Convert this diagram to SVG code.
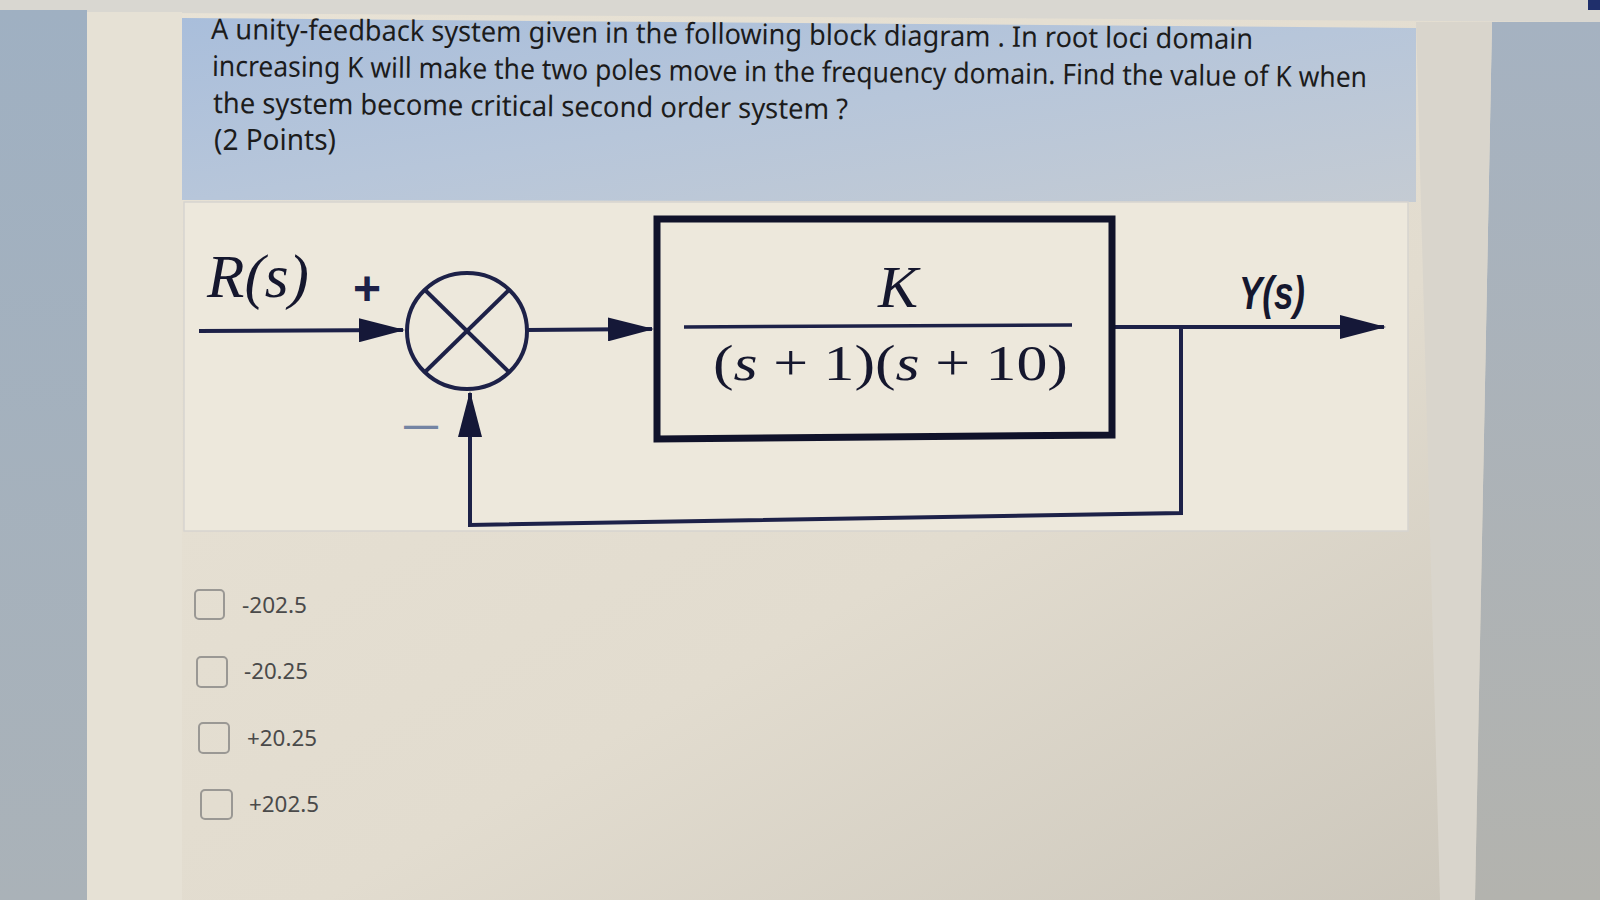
<svg xmlns="http://www.w3.org/2000/svg" width="1600" height="900" viewBox="0 0 1600 900">
  <defs>
    <linearGradient id="bg" x1="0" y1="0" x2="1" y2="1">
      <stop offset="0" stop-color="#e9e3d6"/>
      <stop offset="0.6" stop-color="#e2dccf"/>
      <stop offset="1" stop-color="#c9c4b9"/>
    </linearGradient>
    <linearGradient id="hdr" x1="0" y1="0" x2="1" y2="1">
      <stop offset="0" stop-color="#a9bedb"/>
      <stop offset="0.5" stop-color="#b7c6da"/>
      <stop offset="1" stop-color="#c4cbd3"/>
    </linearGradient>
    <linearGradient id="leftStrip" x1="0" y1="0" x2="0" y2="1">
      <stop offset="0" stop-color="#9fb0c2"/>
      <stop offset="1" stop-color="#aab2b8"/>
    </linearGradient>
    <linearGradient id="rightStrip" x1="0" y1="0" x2="0" y2="1">
      <stop offset="0" stop-color="#a5b2c1"/>
      <stop offset="1" stop-color="#b3b3ae"/>
    </linearGradient>
    <marker id="arrow" markerUnits="userSpaceOnUse" markerWidth="46" markerHeight="24" refX="44" refY="12" orient="auto">
      <path d="M0,0 L46,12 L0,24 z" fill="#151838"/>
    </marker>
    <style>
      .q { font-family: "Noto Sans", "Open Sans", sans-serif; font-size: 28.5px; fill: #1c1c1c; }
      .opt { font-family: "Noto Sans", "Liberation Sans", sans-serif; font-size: 22px; fill: #4a4a4a; }
      .box { fill: none; stroke: #9a9894; stroke-width: 2; }
      .wire { fill: none; stroke: #1d2148; stroke-width: 4; }
      .math { font-family: "Liberation Serif", "Times New Roman", serif; fill: #15172e; }
    </style>
  </defs>

  <!-- backgrounds -->
  <rect x="0" y="0" width="1600" height="900" fill="url(#bg)"/>
  <polygon points="0,0 1600,0 1600,22 0,12" fill="#d9d7d1"/>
  <rect x="0" y="10" width="87" height="890" fill="url(#leftStrip)"/>
  <rect x="87" y="12" width="95" height="888" fill="#e6e1d5"/>
  <polygon points="1492,22 1600,22 1600,900 1475,900" fill="url(#rightStrip)"/>
  <polygon points="1416,22 1492,22 1475,900 1440,900" fill="#d9d5cc"/>
  <rect x="1588" y="0" width="12" height="10" fill="#1f2f6b"/>

  <!-- header -->
  <polygon points="182,18 1416,28 1416,202 182,200" fill="url(#hdr)"/>
  <g id="question">
    <text class="q" x="211" y="39" textLength="1042" lengthAdjust="spacingAndGlyphs" transform="rotate(0.55 211 39)">A unity-feedback system given in the following block diagram .  In root loci domain</text>
    <text class="q" x="212" y="76" textLength="1155" lengthAdjust="spacingAndGlyphs" transform="rotate(0.55 212 76)">increasing K will make the two poles move in the frequency domain. Find the value of K when</text>
    <text class="q" x="213" y="113" textLength="635" lengthAdjust="spacingAndGlyphs" transform="rotate(0.55 213 113)">the system become critical second order system ?</text>
    <text class="q" x="214" y="150" textLength="122" lengthAdjust="spacingAndGlyphs">(2 Points)</text>
  </g>

  <!-- diagram panel -->
  <rect x="184" y="202" width="1224" height="329" fill="#ede8dc" stroke="#d6d4cf" stroke-width="1.5"/>

  <!-- connectors -->
  <g id="connectors">
    <line class="wire" x1="199" y1="331" x2="403" y2="330" marker-end="url(#arrow)"/>
    <line class="wire" x1="527" y1="330" x2="652" y2="329" marker-end="url(#arrow)"/>
    <line class="wire" x1="1112" y1="327" x2="1384" y2="327" marker-end="url(#arrow)"/>
    <polyline class="wire" points="1181,327 1181,513 470,525 470,520"/>
    <line class="wire" x1="470" y1="525" x2="470" y2="393" marker-end="url(#arrow)"/>
  </g>

  <!-- input label -->
  <g id="input">
    <text class="math" x="207" y="297" font-size="62" font-style="italic" textLength="102" lengthAdjust="spacingAndGlyphs">R(s)</text>
    <text x="367" y="305" font-family="Liberation Sans, sans-serif" font-size="48" font-weight="bold" fill="#1d2148" text-anchor="middle">+</text>
  </g>

  <!-- summing junction -->
  <g id="sum">
    <ellipse cx="467" cy="331" rx="60" ry="58" fill="none" stroke="#1d2148" stroke-width="4"/>
    <line x1="425" y1="290" x2="509" y2="372" stroke="#1d2148" stroke-width="4"/>
    <line x1="509" y1="290" x2="425" y2="372" stroke="#1d2148" stroke-width="4"/>
    <text x="421" y="436" font-family="Liberation Sans, sans-serif" font-size="34" font-weight="bold" fill="#7484a3" text-anchor="middle">—</text>
  </g>

  <!-- plant block -->
  <g id="plant">
    <polygon points="657,219 1112,219 1112,435 657,439" fill="none" stroke="#10122a" stroke-width="7"/>
    <text class="math" x="898" y="307" font-size="60" font-style="italic" text-anchor="middle">K</text>
    <line x1="684" y1="327" x2="1072" y2="325" stroke="#1d2148" stroke-width="3.5"/>
    <text class="math" x="713" y="380" font-size="50" textLength="355" lengthAdjust="spacingAndGlyphs">(<tspan font-style="italic">s</tspan> + 1)(<tspan font-style="italic">s</tspan> + 10)</text>
  </g>

  <!-- output label -->
  <g id="output">
    <text x="1239" y="309" font-family="Liberation Sans, sans-serif" font-size="46" font-weight="bold" font-style="italic" fill="#15172e" textLength="66" lengthAdjust="spacingAndGlyphs">Y(s)</text>
  </g>

  <!-- options -->
  <g id="options">
    <rect class="box" x="195" y="590" width="29" height="29" rx="4"/>
    <text class="opt" x="242" y="613" textLength="65" lengthAdjust="spacingAndGlyphs">-202.5</text>
    <rect class="box" x="197" y="657" width="30" height="30" rx="4"/>
    <text class="opt" x="244" y="679" textLength="64" lengthAdjust="spacingAndGlyphs">-20.25</text>
    <rect class="box" x="199" y="723" width="30" height="30" rx="4"/>
    <text class="opt" x="247" y="746" textLength="70" lengthAdjust="spacingAndGlyphs">+20.25</text>
    <rect class="box" x="201" y="790" width="31" height="29" rx="4"/>
    <text class="opt" x="249" y="812" textLength="70" lengthAdjust="spacingAndGlyphs">+202.5</text>
  </g>
</svg>
